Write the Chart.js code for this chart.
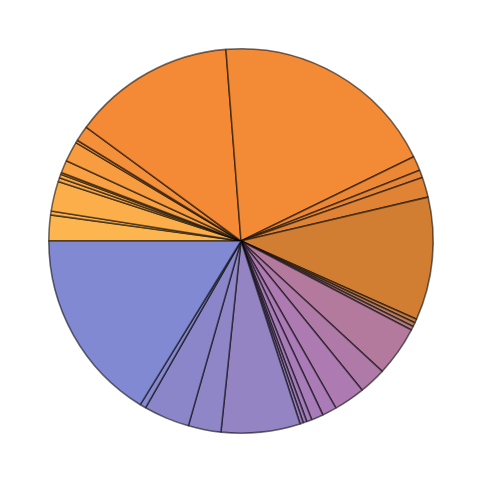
<!DOCTYPE html>
<html>
<head>
<meta charset="utf-8">
<script src="https://cdn.jsdelivr.net/npm/chart.js@4.4.0/dist/chart.umd.min.js"></script>
<style>
  html, body { margin: 0; padding: 0; background: #ffffff; }
  #wrap { width: 482px; height: 482px; }
</style>
</head>
<body>
<div id="wrap"><canvas id="c" width="482" height="482"></canvas></div>
<script>
// Slice values (read as angular shares, degrees), in drawing order starting at 9 o'clock, clockwise
const categories = [
  "S1","S2","S3","S4","S5","S6","S7","S8","S9","S10","S11","S12","S13","S14","S15","S16",
  "S17","S18","S19","S20","S21","S22","S23","S24","S25","S26","S27","S28","S29","S30","S31","S32"
];
const values = [
  7.8, 1.2, 9.0, 1.2, 1.1, 0.6, 3.8, 6.1, 0.8, 4.7, 49.2, 68.5, 4.4, 2.3, 6.1, 37.2,
  1.2, 1.2, 1.2, 15.1, 8.2, 9.5, 4.4, 3.6, 1.6, 1.1, 1.0, 23.9, 9.9, 13.9, 1.8, 58.4
];
const colors = [
  "#FDB54F","#FCB14C","#FCAE4A","#FBA947","#FAA645","#FAA444","#F9A143","#F89C40",
  "#F7963D","#F5903A","#F48A35","#F38A35","#EC8736","#E68536","#E08335","#D17E33",
  "#C47D4A","#B97C60","#B47C80","#B37A9E","#B07AA8","#AD7BB2","#AA7BB6","#A77CB8",
  "#A47DBA","#A07EBB","#9C80BE","#9484C4","#8E86C6","#8B86C9","#8788CD","#8189D3"
];

new Chart(document.getElementById('c'), {
  type: 'pie',
  data: {
    labels: categories,
    datasets: [{
      data: values,
      backgroundColor: colors,
      borderColor: 'rgba(0,0,0,0.55)',
      borderWidth: 1.6
    }]
  },
  options: {
    responsive: false,
    animation: false,
    rotation: -90,
    layout: { padding: 48 },
    plugins: {
      legend: { display: false },
      tooltip: { enabled: false },
      title: { display: false }
    }
  }
});
</script>
</body>
</html>
